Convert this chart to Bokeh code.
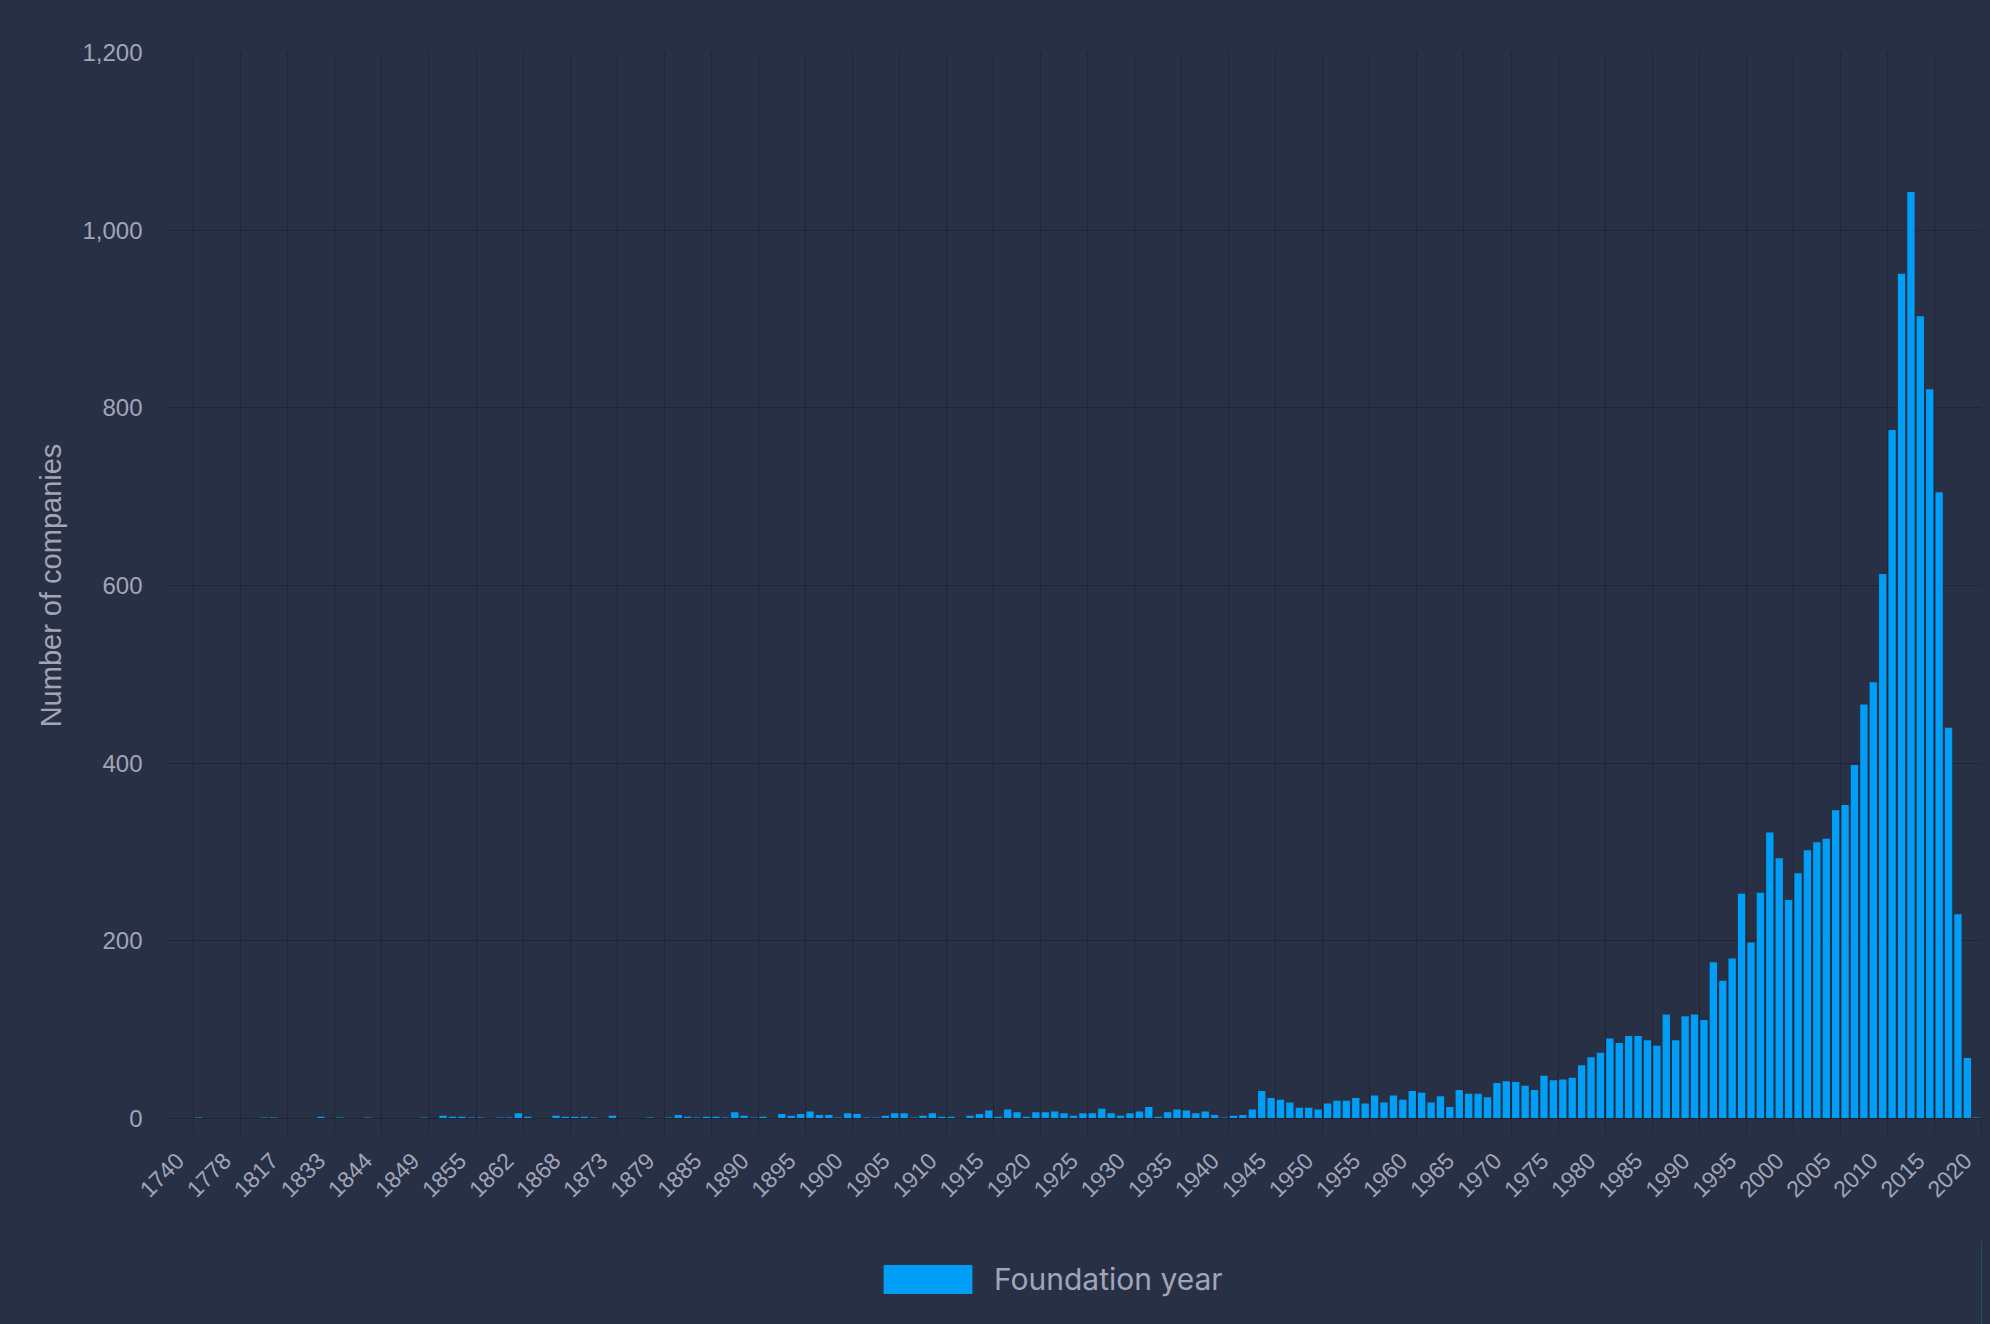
import math
from bokeh.plotting import figure
from bokeh.layouts import column
from bokeh.models import (Range1d, LinearAxis, FixedTicker, NumeralTickFormatter,
                          Legend, LegendItem, ColumnDataSource)
from bokeh.embed import file_html
from bokeh.resources import INLINE

# ---------------- data ----------------
EARLY_YEARS = ["1700", "1740", "1750", "1760", "1765", "1770", "1778", "1786", "1795", "1802",
               "1810", "1817", "1820", "1825", "1828", "1830", "1833", "1835", "1837", "1839",
               "1842", "1844", "1845", "1846", "1847", "1848", "1849", "1850", "1851", "1853",
               "1854", "1855", "1856", "1857", "1859", "1860", "1862", "1863", "1864", "1865",
               "1867", "1868", "1869", "1870", "1871", "1872", "1873", "1874", "1875", "1876",
               "1878", "1879", "1880", "1881", "1882", "1884"]
MODERN_YEARS = [str(y) for y in range(1885, 2022)]
YEARS = EARLY_YEARS + MODERN_YEARS

EARLY_COUNTS = [0, 0, 0, 1, 0, 0, 0, 0, 0, 0,
                1, 1, 0, 0, 0, 0, 2, 0, 1, 0,
                0, 1, 0, 0, 0, 0, 0, 1, 0, 3,
                2, 2, 1, 1, 0, 1, 1, 6, 2, 0,
                0, 3, 2, 2, 2, 1, 0, 3, 0, 0,
                0, 1, 0, 1, 4, 2]
MODERN_COUNTS = [1, 2, 2, 1, 7, 3, 1, 2, 0, 5,          # 1885-1894
                 3, 5, 8, 4, 4, 1, 6, 5, 1, 1,          # 1895-1904
                 3, 6, 6, 1, 3, 6, 2, 2, 0, 3,          # 1905-1914
                 5, 9, 2, 10, 7, 2, 7, 7, 8, 6,         # 1915-1924
                 3, 6, 6, 11, 6, 3, 6, 8, 13, 2,        # 1925-1934
                 7, 10, 9, 6, 8, 4, 1, 3, 4, 10,        # 1935-1944
                 31, 23, 21, 18, 12, 12, 10, 17, 20, 20,  # 1945-1954
                 23, 17, 26, 18, 26, 21, 31, 29, 18, 25,  # 1955-1964
                 13, 32, 28, 28, 24, 40, 42, 41, 37, 32,  # 1965-1974
                 48, 43, 44, 46, 60, 69, 74, 90, 85, 93,  # 1975-1984
                 93, 88, 82, 117, 88, 115, 117, 111, 176, 155,  # 1985-1994
                 180, 253, 198, 254, 322, 293, 246, 276, 302, 311,  # 1995-2004
                 315, 347, 353, 398, 466, 491, 613, 775, 951, 1043,  # 2005-2014
                 903, 821, 705, 440, 230, 68, 1]  # 2015-2021
COUNTS = EARLY_COUNTS + MODERN_COUNTS

TICK_LABELS = ["1740", "1778", "1817", "1833", "1844", "1849", "1855", "1862", "1868", "1873",
               "1879", "1885", "1890", "1895", "1900", "1905", "1910", "1915", "1920", "1925",
               "1930", "1935", "1940", "1945", "1950", "1955", "1960", "1965", "1970", "1975",
               "1980", "1985", "1990", "1995", "2000", "2005", "2010", "2015", "2020"]
Y_TICKS = [0, 200, 400, 600, 800, 1000, 1200]
SERIES_NAME = "Foundation year"
Y_TITLE = "Number of companies"

# ---------------- style ----------------
BG = "#283046"
GRID = "#1f2535"
BAR = "#009ef7"
TXT = "#a1a5b7"

n = len(YEARS)
pos = list(range(n))                      # category slots, one per year
label_pos = [YEARS.index(y) for y in TICK_LABELS]
bounds = [b - 0.5 for b in range(3, n + 1, 5)]   # slot boundaries carrying ticks

p = figure(width=1990, height=1240,
           x_range=Range1d(-0.5, n - 0.5), y_range=Range1d(0, 1200),
           x_axis_location=None, y_axis_location="left",
           output_backend="svg", toolbar_location=None,
           min_border_left=165, min_border_right=9, min_border_top=52, min_border_bottom=122,
           background_fill_color=BG, border_fill_color=BG, outline_line_color=None)

# y axis
yax = p.yaxis[0]
yax.ticker = FixedTicker(ticks=Y_TICKS)
yax.formatter = NumeralTickFormatter(format="0,0")
yax.axis_line_color = None
yax.major_tick_line_color = None
yax.minor_tick_line_color = None
yax.major_tick_out = 0
yax.major_tick_in = 0
yax.minor_tick_out = 0
yax.minor_tick_in = 0
yax.major_label_text_font = "Liberation Sans"
yax.major_label_text_font_size = "24px"
yax.major_label_text_color = TXT
yax.major_label_standoff = 23
yax.axis_label = Y_TITLE
yax.axis_label_text_font = "Liberation Sans"
yax.axis_label_text_font_size = "29px"
yax.axis_label_text_font_style = "normal"
yax.axis_label_text_color = TXT
yax.axis_label_standoff = 12
p.ygrid.ticker = FixedTicker(ticks=Y_TICKS)
p.ygrid.grid_line_color = GRID
p.ygrid.grid_line_width = 1

# vertical grid at category boundaries
p.xgrid.ticker = FixedTicker(ticks=[-0.5] + bounds)
p.xgrid.grid_line_color = GRID
p.xgrid.grid_line_width = 1

# x tick stubs at category boundaries
stub = LinearAxis(ticker=FixedTicker(ticks=bounds),
                  major_tick_out=16, major_tick_in=0, minor_tick_out=0, minor_tick_in=0,
                  major_tick_line_color=GRID, axis_line_color=GRID,
                  major_label_text_alpha=0, major_label_text_font_size="1px",
                  major_label_standoff=0)
p.add_layout(stub, "below")

# x labels (every fifth category)
lab = LinearAxis(ticker=FixedTicker(ticks=label_pos),
                 major_label_overrides={i: y for i, y in zip(label_pos, TICK_LABELS)},
                 major_label_orientation=math.pi / 4,
                 major_tick_out=0, major_tick_in=0, minor_tick_out=0, minor_tick_in=0,
                 axis_line_color=None,
                 major_label_standoff=22,
                 major_label_text_font="Liberation Sans",
                 major_label_text_font_size="23px",
                 major_label_text_color=TXT)
p.add_layout(lab, "below")

src = ColumnDataSource(dict(x=pos, year=YEARS, count=COUNTS))
p.vbar(x="x", top="count", width=0.78, source=src, fill_color=BAR, line_color=None)

# ---------------- legend strip ----------------
q = figure(width=1990, height=84, x_range=Range1d(0, 1), y_range=Range1d(0, 1),
           x_axis_location=None, y_axis_location=None,
           output_backend="svg", toolbar_location=None,
           min_border_left=165, min_border_right=9, min_border_top=0, min_border_bottom=0,
           background_fill_alpha=0, border_fill_alpha=0, outline_line_color=None)
q.xgrid.visible = False
q.ygrid.visible = False
# legend key: a bar placed outside the strip's visible range, used only for the key swatch
key = q.vbar(x=[5], top=[1], width=0.5, fill_color=BAR, line_color=None)
legend = Legend(items=[LegendItem(label=SERIES_NAME, renderers=[key])],
                location=(707, 27), orientation="horizontal",
                glyph_width=111, glyph_height=36, label_height=36, label_standoff=11,
                padding=0, margin=0, spacing=0, border_line_color=None,
                background_fill_alpha=0,
                label_text_font="Inter", label_text_font_size="30px",
                label_text_color=TXT, label_text_baseline="middle")
q.add_layout(legend)

page = column(p, q, spacing=0, styles={"background-color": BG})

html = file_html(page, INLINE, title="Foundation year")
html = html.replace("</head>", "<style>html, body {background: #283046;}</style></head>", 1)
open("out.html", "w").write(html)
